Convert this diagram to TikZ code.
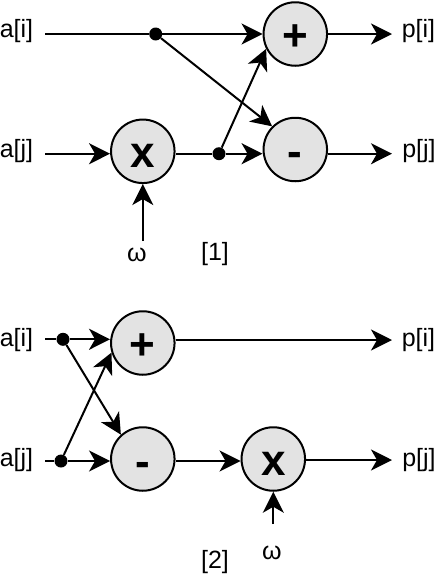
\documentclass[tikz,border=0pt]{standalone}
\usepackage{fontspec}
\setmainfont{Liberation Sans}
\usetikzlibrary{positioning, arrows.meta}

\begin{document}
\begin{tikzpicture}[
  x=1pt, y=-1pt, on grid,
  font=\fontsize{25}{28}\selectfont,
  op/.style={draw, circle, fill=black!11, line width=2pt, minimum size=63.5pt, inner sep=0pt,
             text height=0pt, text depth=0pt,
             font=\fontsize{44}{48}\selectfont\bfseries},
  joint/.style={circle, fill=black, minimum size=13pt, inner sep=0pt},
  ar/.style={line width=2pt, -{Stealth[length=21pt, width=21pt, inset=6pt]}},
  ln/.style={line width=2pt}
]
\useasboundingbox (0,0) rectangle (436,576);
% first butterfly
\node[op] (plusA) at (295.3,34) {\raisebox{-16pt}{+}};
\node[op, below=115.5pt of plusA] (minusA) {\raisebox{-17pt}{-}};
\node[op] (mulA) at (142.8,151.3) {\raisebox{-16pt}{x}};
\node[joint] (tapA) at (155.7,34) {};
\node[joint] (tapB) at (219,153.7) {};
\node (aiA) at (16.5,31) {a[i]};
\node (ajA) at (16.5,151) {a[j]};
\node (piA) at (418.5,31) {p[i]};
\node (pjA) at (419,151) {p[j]};
\node (wA) at (137,255) {ω};
\node (capA) at (215,254) {[1]};
\coordinate (startAi) at (45,34);
\coordinate (startAj) at (45,153.7);
\coordinate (endAi) at (392,34);
\coordinate (endAj) at (392,153.7);
\coordinate (startW) at (142.8,241);
\draw[ln] (startAi) -- (tapA);
\draw[ar] (tapA) -- (plusA.west);
\draw[ar] (tapA) -- (minusA.135);
\draw[ar] (startAj) -- (startAj -| mulA.west);
\draw[ln] (tapB -| mulA.east) -- (tapB);
\draw[ar] (tapB) -- (tapB -| minusA.west);
\draw[ar] (tapB) -- (plusA.207);
\draw[ar] (plusA.east) -- (endAi);
\draw[ar] (endAj -| minusA.east) -- (endAj);
\draw[ar] (startW) -- (mulA.south);
% second butterfly
\node[op] (plusB) at (142.8,343) {\raisebox{-16pt}{+}};
\node[op, below=116pt of plusB] (minusB) {\raisebox{-17pt}{-}};
\node[op, right=130.5pt of minusB] (mulB) {\raisebox{-16pt}{x}};
\node[joint] (tapC) at (63,339.3) {};
\node[joint] (tapD) at (61,461) {};
\node (aiB) at (16.5,340) {a[i]};
\node (ajB) at (16.5,460) {a[j]};
\node (piB) at (418.5,340) {p[i]};
\node (pjB) at (419,460) {p[j]};
\node (wB) at (272,553) {ω};
\node (capB) at (215,562) {[2]};
\coordinate (startBi) at (45,339.3);
\coordinate (startBj) at (45,461);
\coordinate (endBi) at (392,340);
\coordinate (endBj) at (392,460);
\coordinate (startX) at (273.3,524);
\draw[ln] (startBi) -- (tapC);
\draw[ln] (startBj) -- (tapD);
\draw[ar] (tapC) -- (tapC -| plusB.west);
\draw[ar] (tapC) -- (minusB.132);
\draw[ar] (tapD) -- (tapD -| minusB.west);
\draw[ar] (tapD) -- (plusB.197);
\draw[ar] (endBi -| plusB.east) -- (endBi);
\draw[ar] (tapD -| minusB.east) -- (tapD -| mulB.west);
\draw[ar] (endBj -| mulB.east) -- (endBj);
\draw[ar] (startX) -- (mulB.south);
\end{tikzpicture}
\end{document}
